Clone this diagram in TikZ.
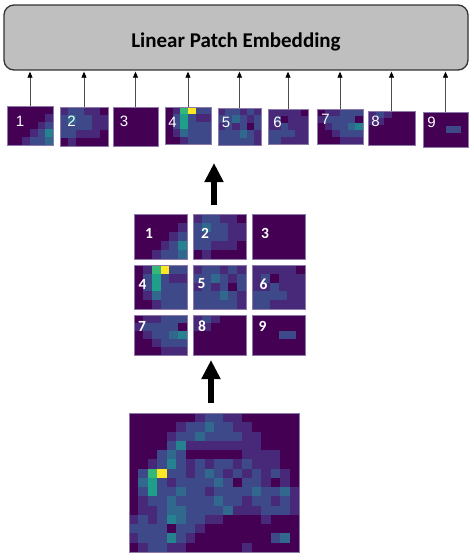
\documentclass[tikz,border=0pt]{standalone}
\usepackage{fontspec}
\newfontfamily\fcarl{Carlito}
\newfontfamily\farial{Liberation Sans}
\usetikzlibrary{arrows.meta}
\definecolor{v0}{HTML}{440154}
\definecolor{v1}{HTML}{482878}
\definecolor{v2}{HTML}{3E4989}
\definecolor{v3}{HTML}{31688E}
\definecolor{v4}{HTML}{26828E}
\definecolor{v5}{HTML}{1F9E89}
\definecolor{v6}{HTML}{35B779}
\definecolor{v7}{HTML}{6ECE58}
\definecolor{v8}{HTML}{B5DE2B}
\definecolor{v9}{HTML}{FDE725}
\definecolor{boxfill}{HTML}{BFBFBF}
\definecolor{boxline}{HTML}{333333}
\definecolor{patchline}{HTML}{8C7BAA}
\definecolor{arrline}{HTML}{4D4D4D}

\newcommand\mycells[5]{%
  \foreach \rw [count=\j from 0] in #5 {%
    \foreach \v [count=\i from 0] in \rw {%
      \fill[v\v] ({#1+\i*#3},{#2+\j*#4}) rectangle ++({#3+0.3},{#4+0.3});
    }%
  }%
}
\newcommand\patchat[6]{%
  \pgfmathsetmacro\pw{#4-#2}\pgfmathsetmacro\ph{#5-#3}%
  \mycells{#2}{#3}{\pw/6}{\ph/5}{#6}%
  \node[patch, minimum width=\pw pt, minimum height=\ph pt] (#1) at ({(#2+#4)/2},{(#3+#5)/2}) {};%
}

\def\imgdata{{0,0,0,0,0,0,0,1,2,2,1,1,0,0,0,0,0,0},
{0,0,0,0,0,1,2,2,3,2,2,1,1,0,0,0,0,0},
{0,0,0,0,1,2,2,3,2,2,2,2,1,1,0,0,0,0},
{0,0,0,0,2,4,1,1,1,1,1,1,1,1,0,0,0,0},
{0,0,0,2,3,2,0,0,0,0,0,0,1,1,1,1,0,0},
{0,0,1,2,4,2,1,2,1,2,2,1,2,1,1,1,0,0},
{0,2,6,9,2,2,1,2,3,2,1,2,1,2,1,2,1,0},
{0,3,5,2,1,2,2,2,2,3,2,0,2,2,1,0,1,0},
{0,2,5,2,2,3,2,2,1,2,2,2,2,3,2,2,3,1},
{0,1,2,2,3,2,2,2,2,3,2,2,1,2,2,1,2,1},
{0,1,1,2,3,3,2,2,2,2,3,1,1,1,2,2,2,1},
{1,2,1,2,4,3,2,2,1,1,0,0,0,0,1,0,0,0},
{2,2,2,2,0,2,2,1,0,0,0,0,0,0,0,0,0,0},
{1,2,2,2,4,2,1,0,0,0,0,0,0,0,0,2,3,0},
{0,1,2,2,1,1,0,0,0,0,0,0,1,0,0,0,0,0}}
\def\pdA{{0,0,0,0,0,0},{0,0,0,0,0,1},{0,0,0,0,1,2},{0,0,0,1,2,4},{0,0,1,2,2,3}}
\def\pdB{{1,2,2,1,1,0},{2,3,2,2,1,1},{2,2,2,2,1,1},{2,2,1,1,1,0},{0,1,0,0,0,0}}
\def\pdC{{0,0,0,0,0,0},{0,0,0,0,0,0},{0,0,0,0,0,0},{0,0,0,0,0,0},{0,0,0,0,0,0}}
\def\pdD{{0,1,6,9,2,2},{0,2,5,2,1,1},{0,2,5,2,2,2},{0,1,3,2,2,2},{0,0,1,2,2,2}}
\def\pdE{{1,2,2,1,2,1},{2,2,3,2,1,2},{1,2,1,2,0,2},{2,2,2,3,2,1},{2,2,2,2,2,1}}
\def\pdF{{1,1,1,1,1,0},{1,2,0,1,1,1},{1,1,2,1,1,1},{2,2,2,2,1,1},{2,2,1,1,1,1}}
\def\pdG{{0,1,1,2,2,2},{1,2,2,2,2,0},{0,1,2,2,3,4},{0,0,1,2,2,2},{0,0,0,1,1,1}}
\def\pdH{{1,2,1,0,0,0},{1,1,0,0,0,0},{0,0,0,0,0,0},{0,0,0,0,0,0},{0,0,0,0,0,0}}
\def\pdI{{0,0,0,0,0,0},{0,0,0,0,0,0},{0,0,0,2,2,0},{0,0,0,0,0,0},{0,0,0,0,0,0}}

\begin{document}
\begin{tikzpicture}[x=1pt,y=-1pt,
  patch/.style={rectangle, draw=patchline, line width=0.6pt, inner sep=0pt},
  toplabel/.style={text=white, inner sep=0pt, font=\farial\fontsize{15}{15}\selectfont},
  gridlabel/.style={text=white, inner sep=0pt, font=\fcarl\bfseries\fontsize{15.5}{15.5}\selectfont},
  smallarrow/.style={draw=arrline, line width=0.8pt, -{Triangle[width=5pt,length=6pt,color=black]}, shorten >=1pt},
  bigarrow/.style={draw=black, line width=6pt, -{Triangle[width=18pt,length=19pt]}}]
\useasboundingbox (0,0) rectangle (474,560);
\fill[white] (0,0) rectangle (474,560);

% top box
\node[draw=boxline, fill=boxfill, line width=1.3pt, rounded corners=10pt,
      minimum width=464pt, minimum height=65pt, inner sep=0pt] (box) at (236,37.5) {};
\node[anchor=base, inner sep=0pt, font=\fcarl\bfseries\fontsize{21}{24}\selectfont] (title) at (236,47) {Linear Patch Embedding};

% top row patches
\patchat{t1}{7}{106}{53}{145}{\pdA}
\patchat{t2}{60}{107}{108}{146}{\pdB}
\patchat{t3}{113}{107}{158}{146}{\pdC}
\patchat{t4}{165}{107}{211}{144}{\pdD}
\patchat{t5}{218}{108}{261}{145}{\pdE}
\patchat{t6}{268}{109}{308}{144}{\pdF}
\patchat{t7}{317}{109}{363}{144}{\pdG}
\patchat{t8}{368}{111}{415}{145}{\pdH}
\patchat{t9}{423}{112}{468}{147}{\pdI}
\node[toplabel] (tl1) at (20,121.5) {1};
\node[toplabel] (tl2) at (71.5,121.5) {2};
\node[toplabel] (tl3) at (124,121.5) {3};
\node[toplabel] (tl4) at (172.5,122.5) {4};
\node[toplabel] (tl5) at (226,122) {5};
\node[toplabel] (tl6) at (277.5,122) {6};
\node[toplabel] (tl7) at (325.5,119) {7};
\node[toplabel] (tl8) at (375.5,121) {8};
\node[toplabel] (tl9) at (431.5,122.5) {9};
\foreach \k in {1,...,9} \draw[smallarrow] (t\k.north) -- (t\k.north |- box.south);

% 3x3 grid
\patchat{g1}{134}{214}{187}{259}{\pdA}
\patchat{g2}{193}{214}{246}{259}{\pdB}
\patchat{g3}{252}{214}{305}{259}{\pdC}
\patchat{g4}{134}{265}{187}{309}{\pdD}
\patchat{g5}{193}{265}{246}{309}{\pdE}
\patchat{g6}{252}{265}{305}{309}{\pdF}
\patchat{g7}{134}{315}{187}{355}{\pdG}
\patchat{g8}{193}{315}{246}{355}{\pdH}
\patchat{g9}{252}{315}{305}{355}{\pdI}
\node[gridlabel] (gl1) at (149,233.5) {1};
\node[gridlabel] (gl2) at (205,233.5) {2};
\node[gridlabel] (gl3) at (265,233.5) {3};
\node[gridlabel] (gl4) at (142.5,284) {4};
\node[gridlabel] (gl5) at (201.5,284) {5};
\node[gridlabel] (gl6) at (263.5,284) {6};
\node[gridlabel] (gl7) at (142,326.5) {7};
\node[gridlabel] (gl8) at (202,326.5) {8};
\node[gridlabel] (gl9) at (262.5,326.5) {9};

% bottom image
\mycells{129}{413}{170/18}{139/15}{\imgdata}
\node[patch, minimum width=170pt, minimum height=139pt] (img) at (214,482.5) {};

% big arrows
\coordinate (b1s) at (214,205);
\coordinate (b1e) at (214,163);
\coordinate (b2s) at (211,403);
\coordinate (b2e) at (211,360);
\draw[bigarrow] (b1s) -- (b1e);
\draw[bigarrow] (b2s) -- (b2e);
\end{tikzpicture}
\end{document}
